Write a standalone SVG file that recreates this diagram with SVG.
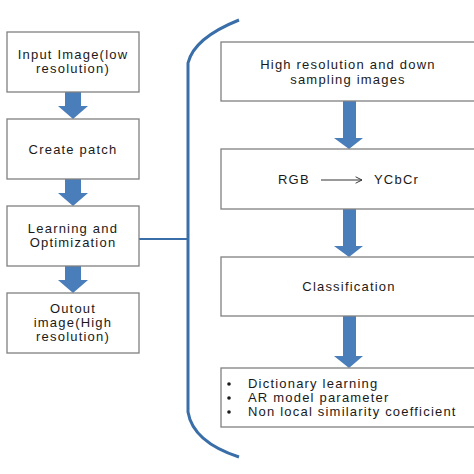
<svg xmlns="http://www.w3.org/2000/svg" width="474" height="474" viewBox="0 0 474 474">
<style>
.box{fill:#fff;stroke:#808080;stroke-width:1.3}
.t{font-family:"Liberation Sans",Arial,sans-serif;font-size:13px;letter-spacing:1.2px;fill:#1a1a1a;text-anchor:middle}
.tl{font-family:"Liberation Sans",Arial,sans-serif;font-size:13px;letter-spacing:1.2px;fill:#1a1a1a}
.blk{fill:#4A7EBB}
.br{fill:none;stroke:#3A6EA8;stroke-width:3}
</style>
<defs>
<marker id="ah" viewBox="0 0 10 10" refX="9" refY="5" markerWidth="8" markerHeight="8" orient="auto" markerUnits="userSpaceOnUse">
<path d="M1,1 L9,5 L1,9" fill="none" stroke="#333" stroke-width="1.2"/>
</marker>
</defs>
<rect width="474" height="474" fill="#fff"/>
<g id="connectors">
<path class="blk" d="M65,92 H81 V106 H88 L73,119 L58,106 H65 Z"/>
<path class="blk" d="M65,179 H81 V193 H88 L73,206 L58,193 H65 Z"/>
<path class="blk" d="M65,266 H81 V280 H88 L73,293 L58,280 H65 Z"/>
<path class="blk" d="M343,101 H356 V138 H363 L349,149 L334,138 H343 Z"/>
<path class="blk" d="M343,209 H356 V246 H363 L349,257 L334,246 H343 Z"/>
<path class="blk" d="M343,316 H356 V356 H363 L349,368 L334,356 H343 Z"/>
<path class="br" d="M239,20 Q194,38 188,63 L188,412 Q193,442 239,457"/>
<line x1="139" y1="239" x2="188" y2="239" stroke="#3A6EA8" stroke-width="2"/>
</g>
<g id="n1"><rect class="box" x="7" y="32" width="132" height="60"/>
<text class="t" x="73" y="59">Input Image(low</text><text class="t" x="73" y="73">resolution)</text></g>
<g id="n2"><rect class="box" x="7" y="119" width="132" height="60"/>
<text class="t" x="73" y="154">Create patch</text></g>
<g id="n3"><rect class="box" x="7" y="206" width="132" height="60"/>
<text class="t" x="73" y="233">Learning and</text><text class="t" x="73" y="247">Optimization</text></g>
<g id="n4"><rect class="box" x="7" y="293" width="132" height="60"/>
<text class="t" x="73" y="313">Outout</text><text class="t" x="73" y="327">image(High</text><text class="t" x="73" y="341">resolution)</text></g>
<g id="r1"><rect class="box" x="221" y="42" width="270" height="59"/>
<text class="t" x="348" y="69">High resolution and down</text><text class="t" x="348" y="84">sampling images</text></g>
<g id="r2"><rect class="box" x="221" y="149" width="270" height="60"/>
<text class="tl" x="278" y="184">RGB</text>
<line x1="321" y1="180" x2="362" y2="180" stroke="#333" stroke-width="1" marker-end="url(#ah)"/>
<text class="tl" x="374" y="184">YCbCr</text></g>
<g id="r3"><rect class="box" x="221" y="257" width="270" height="59"/>
<text class="t" x="349" y="291">Classification</text></g>
<g id="r4"><rect class="box" x="221" y="368" width="270" height="59"/>
<circle cx="229" cy="384" r="1.8" fill="#1a1a1a"/>
<circle cx="229" cy="398" r="1.8" fill="#1a1a1a"/>
<circle cx="229" cy="412" r="1.8" fill="#1a1a1a"/>
<text class="tl" x="248" y="388">Dictionary learning</text>
<text class="tl" x="248" y="402">AR model parameter</text>
<text class="tl" x="248" y="416">Non local similarity coefficient</text></g>
</svg>
